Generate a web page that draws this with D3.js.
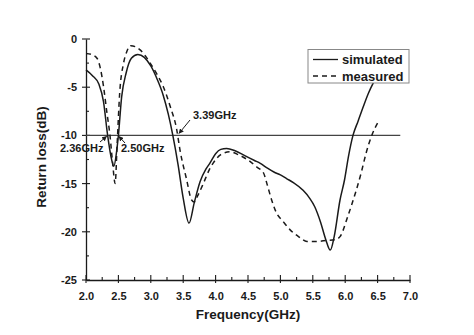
<!DOCTYPE html>
<html><head><meta charset="utf-8">
<script src="https://cdn.jsdelivr.net/npm/d3@7"></script>
<style>body{margin:0;background:#fff;} svg{display:block;}</style>
</head><body>
<svg id="c" width="474" height="335"></svg>
<script>
const xTicks = [2.0,2.5,3.0,3.5,4.0,4.5,5.0,5.5,6.0,6.5,7.0];
const yTicks = [0,-5,-10,-15,-20,-25];
const simFreq = [2.0,2.1,2.2,2.27,2.33,2.38,2.43,2.47,2.50,2.55,2.62,2.70,2.80,2.90,3.00,3.10,3.19,3.27,3.34,3.42,3.50,3.59,3.67,3.76,3.85,3.91,4.00,4.08,4.17,4.30,4.45,4.60,4.69,4.80,4.90,5.00,5.10,5.20,5.35,5.45,5.53,5.62,5.70,5.77,5.83,5.92,5.99,6.05,6.12,6.20,6.28,6.36,6.43,6.50];
const simVal  = [-3.2,-3.8,-4.7,-6.5,-9.8,-12.0,-13.2,-11.8,-10.0,-6.0,-3.5,-2.0,-1.6,-1.9,-2.8,-4.2,-5.8,-7.8,-10.0,-13.0,-16.5,-19.1,-17.0,-14.8,-13.5,-12.9,-11.9,-11.45,-11.35,-11.6,-12.1,-12.6,-12.9,-13.4,-13.8,-14.1,-14.5,-14.9,-15.7,-16.5,-17.4,-19.0,-20.8,-21.9,-20.5,-16.7,-14.6,-12.2,-10.0,-8.5,-7.0,-5.6,-4.6,-3.8];
const measFreq = [2.00,2.08,2.17,2.22,2.27,2.32,2.37,2.41,2.45,2.48,2.52,2.58,2.63,2.69,2.76,2.83,2.90,2.99,3.09,3.19,3.30,3.40,3.45,3.55,3.63,3.67,3.72,3.81,3.90,3.96,4.08,4.22,4.35,4.53,4.64,4.74,4.80,4.87,4.93,5.05,5.15,5.28,5.41,5.55,5.71,5.85,5.92,5.97,6.02,6.10,6.17,6.25,6.32,6.41,6.51];
const measVal  = [-1.5,-1.6,-2.0,-3.0,-4.9,-7.5,-10.0,-12.8,-15.0,-11.0,-5.6,-2.5,-1.3,-0.7,-0.8,-1.1,-1.6,-2.5,-3.6,-4.9,-7.0,-9.4,-11.5,-14.5,-16.7,-16.9,-16.3,-15.0,-13.6,-12.9,-12.0,-11.7,-12.0,-12.7,-13.3,-13.9,-15.2,-16.8,-17.9,-19.0,-19.8,-20.5,-21.0,-21.0,-20.9,-20.8,-20.5,-19.8,-18.8,-17.2,-15.7,-13.8,-11.9,-10.0,-8.6];
const refLevel = -10;
const refEnd = 6.85;
const annotations = [
  {text:"2.36GHz", f:2.36},
  {text:"2.50GHz", f:2.50},
  {text:"3.39GHz", f:3.39}
];
const legendLabels = ["simulated","measured"];

const svg = d3.select("#c");
const x = d3.scaleLinear().domain([2,7]).range([86,410]);
const y = d3.scaleLinear().domain([-25,0]).range([280,39]);
const font = "'Liberation Sans', Arial, sans-serif";
const ink = "#1a1a1a";

// axes
const gx = svg.append("g").attr("transform","translate(0,280)")
  .call(d3.axisBottom(x).tickValues(xTicks).tickFormat(d3.format(".1f")).tickSize(0).tickPadding(12));
const gy = svg.append("g").attr("transform","translate(86,0)")
  .call(d3.axisLeft(y).tickValues(yTicks).tickFormat(d=>d).tickSize(0).tickPadding(9));
[gx,gy].forEach(g=>{
  g.select(".domain").attr("stroke",ink).attr("stroke-width",1.3);
  g.selectAll("text").attr("font-family",font).attr("font-weight","bold").attr("font-size",11).attr("fill",ink);
});
// ticks: major inward + small outward, minor inward
const minorX = d3.range(2.25,7,0.5);
const minorY = d3.range(-22.5,0,5);
svg.append("g").selectAll("line").data(xTicks).join("line")
  .attr("x1",d=>x(d)).attr("x2",d=>x(d)).attr("y1",283).attr("y2",275).attr("stroke",ink).attr("stroke-width",1.1);
svg.append("g").selectAll("line").data(minorX).join("line")
  .attr("x1",d=>x(d)).attr("x2",d=>x(d)).attr("y1",280).attr("y2",277).attr("stroke",ink).attr("stroke-width",1.1);
svg.append("g").selectAll("line").data(yTicks).join("line")
  .attr("y1",d=>y(d)).attr("y2",d=>y(d)).attr("x1",82).attr("x2",90).attr("stroke",ink).attr("stroke-width",1.1);
svg.append("g").selectAll("line").data(minorY).join("line")
  .attr("y1",d=>y(d)).attr("y2",d=>y(d)).attr("x1",86).attr("x2",89).attr("stroke",ink).attr("stroke-width",1.1);

// axis titles
svg.append("text").attr("x",248).attr("y",319).attr("text-anchor","middle")
  .attr("font-family",font).attr("font-weight","bold").attr("font-size",13.5).attr("fill",ink).text("Frequency(GHz)");
svg.append("text").attr("transform","translate(46,157) rotate(-90)").attr("text-anchor","middle")
  .attr("font-family",font).attr("font-weight","bold").attr("font-size",13.5).attr("fill",ink).text("Return loss(dB)");

// reference line
svg.append("line").attr("x1",x(2)).attr("x2",x(refEnd)).attr("y1",y(refLevel)).attr("y2",y(refLevel))
  .attr("stroke","#444").attr("stroke-width",1.1);

// curves
const line = d3.line().x(d=>x(d[0])).y(d=>y(d[1])).curve(d3.curveMonotoneX);
const sim = simFreq.map((f,i)=>[f,simVal[i]]);
const meas = measFreq.map((f,i)=>[f,measVal[i]]);
svg.append("path").attr("d",line(sim)).attr("fill","none").attr("stroke",ink).attr("stroke-width",1.5);
svg.append("path").attr("d",line(meas)).attr("fill","none").attr("stroke",ink).attr("stroke-width",1.5).attr("stroke-dasharray","5,4");

// annotations
const annPos = [
  {tx:60, ty:152, ax1:100, ay1:142, ax2:x(2.31)+0.5, ay2:y(-10)+1},
  {tx:121, ty:152, ax1:125, ay1:143, ax2:x(2.50)+0.5, ay2:y(-10)+1},
  {tx:193, ty:119, ax1:190, ay1:120, ax2:x(3.42)+1, ay2:y(-10)-2}
];
svg.append("defs").append("marker").attr("id","ah").attr("viewBox","0 0 10 10").attr("refX",9).attr("refY",5)
  .attr("markerWidth",5).attr("markerHeight",5).attr("orient","auto")
  .append("path").attr("d","M0,0L10,5L0,10z").attr("fill",ink);
annotations.forEach((a,i)=>{
  const p = annPos[i];
  svg.append("text").attr("x",p.tx).attr("y",p.ty).attr("font-family",font).attr("font-weight","bold")
    .attr("font-size",11).attr("fill",ink).text(a.text);
  svg.append("line").attr("x1",p.ax1).attr("y1",p.ay1).attr("x2",p.ax2).attr("y2",p.ay2)
    .attr("stroke",ink).attr("stroke-width",1).attr("marker-end","url(#ah)");
});

// legend
const lg = svg.append("g");
lg.append("rect").attr("x",308).attr("y",49.5).attr("width",101).attr("height",33.5)
  .attr("fill","#fff").attr("stroke","#888").attr("stroke-width",1);
legendLabels.forEach((t,i)=>{
  const yy = 59.5 + i*16.5;
  lg.append("line").attr("x1",313).attr("x2",338).attr("y1",yy).attr("y2",yy).attr("stroke",ink).attr("stroke-width",1.3)
    .attr("stroke-dasharray", i===1 ? "5,4" : null);
  lg.append("text").attr("x",342).attr("y",yy+4.5).attr("font-family",font).attr("font-weight","bold")
    .attr("font-size",13).attr("fill",ink).text(t);
});
</script>
</body></html>
